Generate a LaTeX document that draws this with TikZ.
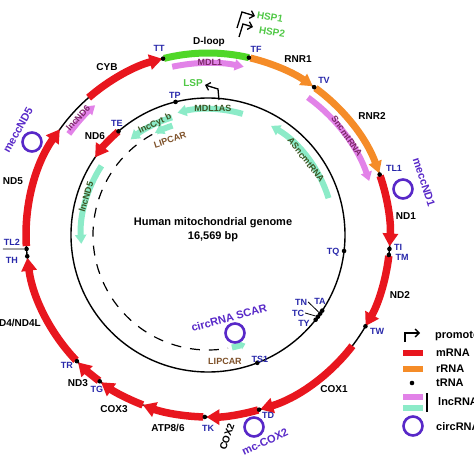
\documentclass[tikz,border=0pt]{standalone}
\usepackage{fontspec}
\setmainfont{Liberation Sans}
\usepackage{xcolor}
\usepackage{tikz}
\usetikzlibrary{arrows.meta}
\definecolor{mred}{RGB}{232, 22, 30}
\definecolor{rorange}{RGB}{245, 140, 40}
\definecolor{dgreen}{RGB}{80, 215, 40}
\definecolor{lncmag}{RGB}{226, 130, 232}
\definecolor{lncteal}{RGB}{140, 235, 200}
\definecolor{cpurple}{RGB}{88, 40, 200}
\definecolor{tblue}{RGB}{40, 40, 170}
\definecolor{pgreen}{RGB}{80, 200, 70}
\definecolor{lbrown}{RGB}{125, 80, 40}
\definecolor{tealtxt}{RGB}{60, 85, 35}
\definecolor{magtxt}{RGB}{125, 40, 105}

\begin{document}
\begin{tikzpicture}[x=1pt, y=1pt,
  mrna/.style={draw=mred, line width=7.5pt, -{Triangle[length=13pt, width=15pt]}},
  rrna/.style={draw=rorange, line width=7pt, -{Triangle[length=12pt, width=13pt]}},
  lncm/.style={draw=lncmag, line width=6pt, -{Triangle[length=9pt, width=11pt]}},
  lnct/.style={draw=lncteal, line width=6pt, -{Triangle[length=9pt, width=11pt]}},
  trna/.style={circle, fill=black, inner sep=0pt, minimum size=4.6pt},
  circrna/.style={circle, draw=cpurple, line width=2.6pt, minimum size=19pt, inner sep=0pt},
  prom/.style={line width=1.3pt, -{Straight Barb[length=4pt, width=8pt]}},
  tlbl/.style={font=\fontsize{9pt}{10pt}\selectfont\bfseries, text=tblue, inner sep=1pt},
  glbl/.style={font=\fontsize{10pt}{12pt}\selectfont\bfseries, inner sep=1pt},
  blbl/.style={font=\fontsize{9pt}{10pt}\selectfont\bfseries, inner sep=0pt},
  clbl/.style={font=\fontsize{11pt}{13pt}\selectfont\bfseries, text=cpurple, inner sep=1pt},
  leg/.style={font=\fontsize{11pt}{13pt}\selectfont\bfseries, anchor=west, inner sep=0pt}
]
\useasboundingbox (-208,-239) rectangle (266,235);
\clip (-208,-239) rectangle (266,235);

% backbones
\draw[line width=1.4pt] (0,0) circle (182);
\draw[line width=1.4pt] (0,0) circle (137);
\draw[line width=1.2pt, dash pattern=on 10pt off 9pt]
  (119:115) arc[start angle=119, end angle=280, radius=115];

% outer ring (H-strand)
\draw[draw=dgreen, line width=7pt] (77:182) arc[start angle=77, end angle=104, radius=182];
\draw[lncm] (102:172) arc[start angle=102, end angle=78, radius=172];
\draw[rrna] (76.5:182) arc[start angle=76.5, end angle=54.8, radius=182];
\draw[rrna] (53.8:182) arc[start angle=53.8, end angle=19.8, radius=182];
\draw[mrna] (19:182) arc[start angle=19, end angle=-3.6, radius=182];
\draw[mrna] (-6.6:182) arc[start angle=-6.6, end angle=-30, radius=182];
\draw[mrna] (-37.5:182) arc[start angle=-37.5, end angle=-73.3, radius=182];
\draw[mrna] (-74:182) arc[start angle=-74, end angle=-90.5, radius=182];
\draw[mrna] (-91.5:182) arc[start angle=-91.5, end angle=-111, radius=182];
\draw[mrna] (-111:182) arc[start angle=-111, end angle=-126, radius=182];
\draw[mrna] (-126.8:182) arc[start angle=-126.8, end angle=-135.6, radius=182];
\draw[mrna] (-136.5:182) arc[start angle=-136.5, end angle=-172.8, radius=182];
\draw[mrna] (183.5:182) arc[start angle=183.5, end angle=144.5, radius=182];
\draw[lncm] (144:172) arc[start angle=144, end angle=131, radius=172];
\draw[mrna] (131:182) arc[start angle=131, end angle=104.5, radius=182];
\draw[lncm] (54:170) arc[start angle=54, end angle=18.5, radius=170];

% inner ring (L-strand)
\draw[mrna, line width=7pt] (131:137) arc[start angle=131, end angle=145.5, radius=137];
\draw[lnct] (147:127) arc[start angle=147, end angle=184, radius=127];
\draw[lnct] (107:123) arc[start angle=107, end angle=129, radius=123];
\draw[lnct] (74:126) arc[start angle=74, end angle=104, radius=126];
\draw[lnct] (17:126) arc[start angle=17, end angle=60, radius=126];
\draw[lnct] (108:115) arc[start angle=108, end angle=117.5, radius=115];
\draw[lnct, -{Triangle[length=5pt, width=8pt]}] (-78:115) arc[start angle=-78, end angle=-71, radius=115];

% tRNAs
\node[trna] (tt)  at (104.3:182) {};
\node[trna] (tf)  at (77:182) {};
\node[trna] (tv)  at (54.3:182) {};
\node[trna] (tl1) at (19.4:182) {};
\node[trna] (ti)  at (-4.4:182) {};
\node[trna] (tm)  at (-6.3:182) {};
\node[trna] (tw)  at (-30.1:182) {};
\node[trna] (td)  at (-73.7:182) {};
\node[trna] (tk)  at (-91:182) {};
\node[trna] (tg)  at (-126.5:182) {};
\node[trna] (tr)  at (-136.1:182) {};
\node[trna] (th)  at (-173.3:182) {};
\node[trna] (tl2) at (-175.6:182) {};
\node[trna] (tp)  at (103.7:137) {};
\node[trna] (te)  at (130.8:137) {};
\node[trna] (tq)  at (-6.7:137) {};
\node[trna] (ta)  at (-33.5:137) {};
\node[trna] (tn)  at (-35:137) {};
\node[trna] (tc)  at (-36.6:137) {};
\node[trna] (ty)  at (-38.2:137) {};
\node[trna] (ts1) at (-68.9:137) {};

\node[tlbl] (ttl)  at (-49,187) {TT};
\node[tlbl] (tfl)  at (48,186) {TF};
\node[tlbl] (tvl)  at (116,155) {TV};
\node[tlbl] (tl1l) at (186,67) {TL1};
\node[tlbl] (til)  at (190,-12) {TI};
\node[tlbl] (tml)  at (194,-22) {TM};
\node[tlbl] (twl)  at (169,-96) {TW};
\node[tlbl] (tdl)  at (60,-180) {TD};
\node[tlbl] (tkl)  at (0,-193) {TK};
\node[tlbl] (tgl)  at (-111,-154) {TG};
\node[tlbl] (trl)  at (-141,-130) {TR};
\node[tlbl] (thl)  at (-196,-25) {TH};
\node[tlbl] (tl2l) at (-196,-7) {TL2};
\node[tlbl] (tpl)  at (-33,140) {TP};
\node[tlbl] (tel)  at (-91,112) {TE};
\node[tlbl] (tql)  at (125,-17) {TQ};
\node[tlbl] (tal)  at (112,-66) {TA};
\node[tlbl] (tnl)  at (93,-67) {TN};
\node[tlbl] (tcl)  at (90,-78) {TC};
\node[tlbl] (tyl)  at (96,-88) {TY};
\node[tlbl] (ts1l) at (52,-124) {TS1};
\coordinate (tl2end) at (-205,-14);
\draw[line width=0.8pt] (tl2) -- (tl2end);
\draw[line width=0.8pt] (tnl.east) -- (tn);
\draw[line width=0.8pt] (tcl.east) -- (tc);

% gene labels
\node[glbl] (cyb)   at (-101,168) {CYB};
\node[glbl] (nd5)   at (-195,54) {ND5};
\node[glbl] (nd6)   at (-113,99) {ND6};
\node[glbl] (rnr1)  at (90,176) {RNR1};
\node[glbl] (rnr2)  at (164,119) {RNR2};
\node[glbl] (nd1)   at (198,19) {ND1};
\node[glbl] (nd2)   at (192,-60) {ND2};
\node[glbl] (cox1)  at (126,-154) {COX1};
\node[glbl, rotate=71] (cox2) at (19,-202) {COX2};
\node[glbl] (atp)   at (-40,-193) {ATP8/6};
\node[glbl] (cox3)  at (-94,-174) {COX3};
\node[glbl] (nd3)   at (-130,-148) {ND3};
\node[glbl, anchor=east] (nd4) at (-166,-88) {ND4/ND4L};
\node[glbl] (dloop) at (1,193) {D-loop};

% lncRNA labels
\node[blbl, text=magtxt] (mdl1) at (2,173) {MDL1};
\node[blbl, text=tealtxt] (mdl1as) at (5,127) {MDL1AS};
\node[blbl, text=tealtxt, rotate=26] (lcytb) at (-53,111) {lncCyt b};
\node[blbl, text=tealtxt, rotate=-52] (asnc) at (98,75) {ASncmtRNA};
\node[blbl, text=magtxt, rotate=-55] (snc) at (139,99) {SncmtRNA};
\node[blbl, text=tealtxt, rotate=73] (lnd5) at (-122,38) {lncND5};
\node[blbl, text=magtxt, rotate=48] (lnd6) at (-130,117) {lncND6};
\node[blbl, text=lbrown, rotate=18] (lipa) at (-38,95) {LIPCAR};
\node[blbl, text=lbrown] (lipb) at (17,-126) {LIPCAR};

% promoters
\coordinate (hsp1a) at (29,207); \coordinate (hsp1b) at (34,223); \coordinate (hsp1c) at (47,219);
\coordinate (hsp2a) at (31,198); \coordinate (hsp2b) at (35,211); \coordinate (hsp2c) at (45,208);
\coordinate (lspa) at (11,135); \coordinate (lspb) at (10,146); \coordinate (lspc) at (-3,150);
\draw[prom] (hsp1a) -- (hsp1b) -- (hsp1c);
\draw[prom] (hsp2a) -- (hsp2b) -- (hsp2c);
\draw[prom] (lspa) -- (lspb) -- (lspc);
\node[glbl, text=pgreen, rotate=-10] (hsp1) at (62,218) {HSP1};
\node[glbl, text=pgreen, rotate=-10] (hsp2) at (64,203) {HSP2};
\node[glbl, text=pgreen] (lsp) at (-15,152) {LSP};

% circRNAs
\node[circrna] (cnd5) at (-176,93) {};
\node[circrna] (cnd1) at (195,46) {};
\node[circrna] (ccox2) at (46,-192) {};
\node[circrna] (cscar) at (27,-98) {};
\node[clbl, rotate=61] at (-190,105) (cnd5l) {meccND5};
\node[clbl, rotate=-72] at (216,53) (cnd1l) {meccND1};
\node[clbl, rotate=25] at (57,-207) (ccox2l) {mc-COX2};
\node[clbl, rotate=15] at (21,-83) (cscarl) {circRNA SCAR};

\node[font=\fontsize{11pt}{14pt}\selectfont\bfseries, align=center] (title) at (5,5)
  {Human mitochondrial genome\\16,569 bp};

% legend
\coordinate (pa) at (197,-107); \coordinate (pb) at (197,-98); \coordinate (pc) at (212,-98);
\draw[prom] (pa) -- (pb) -- (pc);
\draw[draw=mred, line width=6pt] (195,-118) -- (215,-118);
\draw[draw=rorange, line width=6pt] (195,-134) -- (215,-134);
\node[trna] (legt) at (204,-148) {};
\draw[draw=lncmag, line width=5.5pt] (195,-162) -- (215,-162);
\draw[draw=lncteal, line width=5.5pt] (195,-173) -- (215,-173);
\draw[line width=1.2pt] (219,-158) -- (219,-177);
\node[circrna] (legc) at (205,-191) {};
\node[leg] at (227,-101) {promoter};
\node[leg] at (228,-118) {mRNA};
\node[leg] at (228,-134) {rRNA};
\node[leg] at (228,-148) {tRNA};
\node[leg] at (230,-167) {lncRNA};
\node[leg] at (228,-192) {circRNA};
\end{tikzpicture}
\end{document}
